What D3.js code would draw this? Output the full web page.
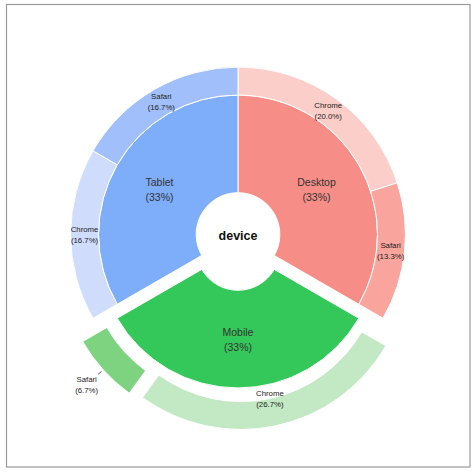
<!DOCTYPE html>
<html>
<head>
<meta charset="utf-8">
<script src="https://cdn.jsdelivr.net/npm/d3@7"></script>
<style>
  html, body { margin: 0; padding: 0; background: #fff; }
  text { font-family: "Liberation Sans", Arial, sans-serif; }
</style>
</head>
<body>
<svg id="chart" width="474" height="474"></svg>
<script>
// ---- data ----
const devices = ["Desktop", "Mobile", "Tablet"];
const browsers = ["Chrome", "Safari"];
const chromeCounts = [6, 8, 5];
const safariCounts = [4, 2, 5];
const explodedDevice = "Mobile";
const centerTitle = "device";

const pieColors = ["#F68E87", "#34C75A", "#7EADFA"];
const donutColors = {
  Desktop: ["#FBCEC9", "#F9A49D"],
  Mobile: ["#C2E9C3", "#7ED381"],
  Tablet: ["#D0DCFB", "#A1BFFA"]
};

// ---- layout ----
const svg = d3.select("#chart");
svg.append("rect").attr("x", 6.5).attr("y", 4.5).attr("width", 463.5).attr("height", 462.5)
  .attr("fill", "none").attr("stroke", "#9a9a9a").attr("stroke-width", 1.2);

const cx = 238, cy = 234.5, u = 139.5;
const r0 = 0.3 * u, r1 = u, r2 = 1.2 * u, ex = 0.1 * u;

const total = d3.sum(chromeCounts) + d3.sum(safariCounts);
const pieData = devices.map((d, i) => ({ device: d, value: chromeCounts[i] + safariCounts[i], color: pieColors[i] }));
const donutData = [];
devices.forEach((d, i) => {
  donutData.push({ device: d, browser: "Chrome", value: chromeCounts[i], color: donutColors[d][0] });
  donutData.push({ device: d, browser: "Safari", value: safariCounts[i], color: donutColors[d][1] });
});

const pie = d3.pie().sort(null).value(d => d.value);
const pieArcs = pie(pieData);
const donutArcs = pie(donutData);

const polar = (a, r) => [Math.sin(a) * r, -Math.cos(a) * r];
const mid = d => (d.startAngle + d.endAngle) / 2;

const g = svg.append("g").attr("transform", `translate(${cx},${cy})`);

const arcIn = d3.arc().innerRadius(r0).outerRadius(r1);
const arcOut = d3.arc().innerRadius(r1).outerRadius(r2);

// pie offsets
const pieOffset = {};
pieArcs.forEach(a => {
  pieOffset[a.data.device] = a.data.device === explodedDevice ? polar(mid(a), ex) : [0, 0];
});

// inner pie
pieArcs.forEach(a => {
  const o = pieOffset[a.data.device];
  const gg = g.append("g").attr("transform", `translate(${o[0]},${o[1]})`);
  gg.append("path").attr("d", arcIn(a)).attr("fill", a.data.color)
    .attr("stroke", "#fff").attr("stroke-width", 1);
  const p = polar(mid(a), (r0 + r1) / 2);
  const t = gg.append("text").attr("text-anchor", "middle").attr("font-size", 10.5).attr("fill", "#333");
  t.append("tspan").attr("x", p[0]).attr("y", p[1] - 3).text(a.data.device);
  t.append("tspan").attr("x", p[0]).attr("y", p[1] + 11.5)
    .text("(" + Math.round(a.data.value / total * 100) + "%)");
});

// outer donut
donutArcs.forEach(a => {
  const po = pieOffset[a.data.device];
  const extra = a.data.device === explodedDevice ? polar(mid(a), ex) : [0, 0];
  const gg = g.append("g").attr("transform", `translate(${po[0] + extra[0]},${po[1] + extra[1]})`);
  gg.append("path").attr("d", arcOut(a)).attr("fill", a.data.color)
    .attr("stroke", "#fff").attr("stroke-width", 1);
});

// donut labels
donutArcs.forEach(a => {
  const po = pieOffset[a.data.device];
  const ratio = a.data.value / total;
  const pct = "(" + (ratio * 100).toFixed(1) + "%)";
  const lg = g.append("g").attr("transform", `translate(${po[0]},${po[1]})`);
  let p;
  if (ratio < 0.1) {
    const s = polar(mid(a), 1.315 * u), e = polar(mid(a), 1.35 * u);
    lg.append("line").attr("x1", s[0]).attr("y1", s[1]).attr("x2", e[0]).attr("y2", e[1])
      .attr("stroke", "#333").attr("stroke-width", 0.7);
    p = polar(mid(a), 1.46 * u);
  } else {
    p = polar(mid(a), (r1 + r2) / 2);
  }
  const t = lg.append("text").attr("text-anchor", "middle").attr("font-size", 7.8).attr("fill", "#222");
  t.append("tspan").attr("x", p[0]).attr("y", p[1] - 2.5).text(a.data.browser);
  t.append("tspan").attr("x", p[0]).attr("y", p[1] + 8.5).text(pct);
});

// center title
g.append("text").attr("text-anchor", "middle").attr("y", 5).attr("font-size", 12.5)
  .attr("font-weight", "bold").attr("fill", "#111").text(centerTitle);
</script>
</body>
</html>
